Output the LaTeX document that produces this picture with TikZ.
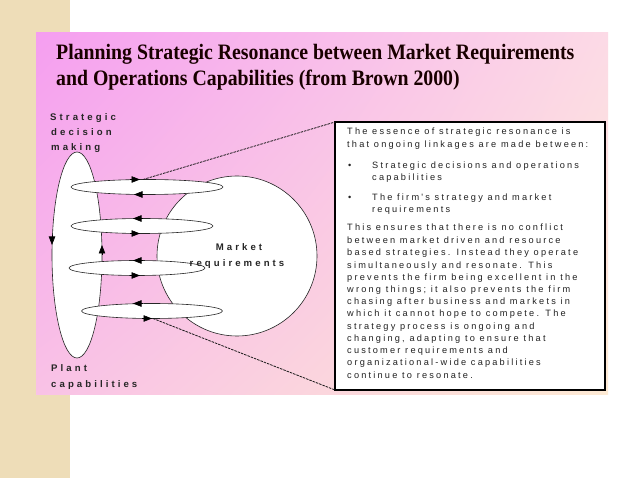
\documentclass[tikz,border=0pt]{standalone}
\usepackage{fontspec}
\setmainfont{Liberation Serif}
\newfontfamily\titlefont[FakeStretch=0.9]{Liberation Serif}
\newfontfamily\boxfont[LetterSpace=24]{Liberation Sans}
\newfontfamily\lblfont[LetterSpace=32]{Liberation Sans}
\usetikzlibrary{arrows.meta,shapes.geometric,shadings,calc}
\definecolor{stripe}{HTML}{EEDDB8}
\definecolor{pkA}{HTML}{F59EF0}
\definecolor{pkB}{HTML}{FCDAE6}
\definecolor{pkC}{HTML}{F9C2E6}
\definecolor{pkD}{HTML}{FDEAD4}
\definecolor{txt}{HTML}{222222}
\tikzset{
  titletext/.style={font=\titlefont\bfseries\fontsize{22}{26}\selectfont, text=black!90!red, inner sep=0pt, anchor=base west},
  lbl/.style={font=\lblfont\bfseries\fontsize{9.6}{11}\selectfont, text=black!85, inner sep=0pt},
  bx/.style={font=\boxfont\fontsize{9.2}{10}\selectfont, text=txt, inner sep=0pt, anchor=base west},
  ell/.style={ellipse, draw=black!85, line width=0.6pt, fill=white, inner sep=0pt, outer sep=0pt},
  tri/.style={-{Triangle[length=8.5pt,width=6.5pt]}, line width=0.6pt, black},
  lead/.style={draw=black!90, line width=0.8pt, dash pattern=on 2.5pt off 1pt}
}
\begin{document}
\begin{tikzpicture}[x=1pt,y=-1pt]
\useasboundingbox (0,0) rectangle (638,478);
\fill[white] (0,0) rectangle (638,478);
\fill[stripe] (0,0) rectangle (70,478);
\shade[upper left=pkA, upper right=pkB, lower left=pkC, lower right=pkD] (36,33) rectangle (608,395);

\node[titletext] (t1) at (56,60) {Planning Strategic Resonance between Market Requirements};
\node[titletext] (t2) at (56,86) {and Operations Capabilities (from Brown 2000)};

% vertical loop and market circle
\node[ell, minimum width=50pt, minimum height=206pt] (ve) at (77,255) {};
\node[circle, draw=black!85, line width=0.6pt, fill=white, minimum size=160pt, inner sep=0pt, outer sep=0pt] (mk) at (237,256) {};

% horizontal loops
\node[ell, minimum width=152pt, minimum height=15pt] (e1) at (147,187) {};
\node[ell, minimum width=142pt, minimum height=15pt] (e2) at (142,226) {};
\node[ell, minimum width=136pt, minimum height=15pt] (e3) at (137,268) {};
\node[ell, minimum width=141pt, minimum height=15pt] (e4) at (152,311) {};

% arrow heads
\draw[tri] ($(e1.north)+(-17,0)$) -- ($(e1.north)+(-7,0)$);
\draw[tri] ($(e1.south)+(-3,0)$) -- ($(e1.south)+(-13,0)$);
\draw[tri] ($(e2.north)+(1,0)$) -- ($(e2.north)+(-9,0)$);
\draw[tri] ($(e2.south)+(-12,0)$) -- ($(e2.south)+(-2,0)$);
\draw[tri] ($(e3.north)+(6,0)$) -- ($(e3.north)+(-4,0)$);
\draw[tri] ($(e3.south)+(-7,0)$) -- ($(e3.south)+(3,0)$);
\draw[tri] ($(e4.north)+(-9,0)$) -- ($(e4.north)+(-19,0)$);
\draw[tri] ($(e4.south)+(-10,0)$) -- ($(e4.south)+(0,0)$);
\draw[tri] ($(ve.west)+(0,-20)$) -- ($(ve.west)+(0,-10)$);
\draw[tri] ($(ve.east)+(0,0)$) -- ($(ve.east)+(0,-10)$);

% labels
\node[lbl, anchor=base west] (s1) at (50,121) {Strategic};
\node[lbl, anchor=base west] (s2) at (51,136) {decision};
\node[lbl, anchor=base west] (s3) at (51,151) {making};
\node[lbl, anchor=base west] (p1) at (51,372) {Plant};
\node[lbl, anchor=base west] (p2) at (51,388) {capabilities};
\node[lbl, anchor=base] (m1) at (239,251) {Market};
\node[lbl, anchor=base] (m2) at (237,267) {requirements};

% explanation box
\node[draw=black, line width=2pt, fill=white, minimum width=270pt, minimum height=268pt, inner sep=0pt, outer sep=0pt, anchor=north west] (box) at (335,122) {};
\coordinate (c1) at ($(e1.north)+(-4,0)$);
\coordinate (c2) at ($(e4.south)+(1,0)$);
\draw[lead] (c1) -- (box.north west);
\draw[lead] (c2) -- (box.south west);

\node[bx] (b1) at (347,135) {The essence of strategic resonance is};
\node[bx] (b2) at (347,148) {that ongoing linkages are made between:};
\node[bx] (d1) at (348,169) {•};
\node[bx] (b3) at (372,169) {Strategic decisions and operations};
\node[bx] (b4) at (372,181) {capabilities};
\node[bx] (d2) at (348,201) {•};
\node[bx] (b5) at (372,201) {The firm's strategy and market};
\node[bx] (b6) at (372,213) {requirements};
\foreach \yy/\tx [count=\i] in {
 231/{This ensures that there is no conflict},
 243.5/{between market driven and resource},
 256/{based strategies. Instead they operate},
 268.5/{simultaneously and resonate. This},
 281/{prevents the firm being excellent in the},
 293/{wrong things; it also prevents the firm},
 305/{chasing after business and markets in},
 317/{which it cannot hope to compete. The},
 330/{strategy process is ongoing and},
 342/{changing, adapting to ensure that},
 354/{customer requirements and},
 366/{organizational-wide capabilities},
 379/{continue to resonate.}}
 {\node[bx] (r\i) at (347,\yy) {\tx};}
\end{tikzpicture}
\end{document}
